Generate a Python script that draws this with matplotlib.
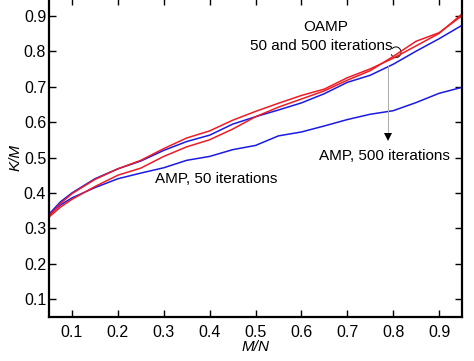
import matplotlib
matplotlib.use("Agg")
import matplotlib.pyplot as plt
from matplotlib.patches import Arc

plt.rcParams['font.family'] = ['Liberation Sans', 'DejaVu Sans']

x = [0.05, 0.075, 0.1, 0.15, 0.2, 0.25, 0.3, 0.35, 0.4, 0.45, 0.5,
     0.55, 0.6, 0.65, 0.7, 0.75, 0.8, 0.85, 0.9, 0.95]

amp_50 = [0.338, 0.366, 0.386, 0.415, 0.440, 0.456, 0.471, 0.492, 0.503, 0.522, 0.534,
          0.561, 0.572, 0.589, 0.607, 0.622, 0.632, 0.655, 0.681, 0.698]
amp_500 = [0.340, 0.375, 0.400, 0.440, 0.468, 0.490, 0.520, 0.545, 0.563, 0.594, 0.615,
           0.634, 0.654, 0.680, 0.712, 0.732, 0.763, 0.800, 0.835, 0.873]
oamp_a = [0.335, 0.370, 0.398, 0.438, 0.468, 0.492, 0.525, 0.555, 0.575, 0.605, 0.630,
          0.653, 0.675, 0.693, 0.725, 0.750, 0.780, 0.815, 0.850, 0.905]
oamp_b = [0.332, 0.360, 0.382, 0.418, 0.450, 0.470, 0.503, 0.530, 0.550, 0.580, 0.615,
          0.642, 0.665, 0.688, 0.718, 0.745, 0.785, 0.828, 0.852, 0.900]

xticks = [0.1, 0.2, 0.3, 0.4, 0.5, 0.6, 0.7, 0.8, 0.9]
yticks = [0.1, 0.2, 0.3, 0.4, 0.5, 0.6, 0.7, 0.8, 0.9]

RED = '#ee1c24'
BLUE = '#1a1ae6'
FS = 11

fig = plt.figure(figsize=(4.74, 3.61), dpi=100)
ax = fig.add_axes([49/474, 44/361, (462-49)/474, (319)/361])

ax.plot(x, amp_50, color=BLUE, lw=1.1)
ax.plot(x, amp_500, color=BLUE, lw=1.1)
ax.plot(x, oamp_b, color=RED, lw=1.1)
ax.plot(x, oamp_a, color=RED, lw=1.1)

ax.set_xlim(0.05, 0.95)
ax.set_ylim(0.05, 0.95)
ax.set_xticks(xticks)
ax.set_yticks(yticks)
ax.set_xticklabels([f"{v:.1f}" for v in xticks], fontsize=11.5)
ax.set_yticklabels([f"{v:.1f}" for v in yticks], fontsize=11.5)
ax.tick_params(direction='in', length=5, width=1.0, top=True, right=True)
ax.tick_params(axis='y', pad=2)
ax.tick_params(axis='x', pad=6)
for s in ax.spines.values():
    s.set_linewidth(1.6)

ax.set_xlabel('M/N', fontsize=FS, style='italic', labelpad=0)
ax.set_ylabel('K/M', fontsize=FS, style='italic', labelpad=1)

ax.text(0.654, 0.869, 'OAMP', fontsize=FS, ha='center', va='center')
ax.text(0.643, 0.814, '50 and 500 iterations', fontsize=FS, ha='center', va='center')
ax.add_patch(Arc((0.806, 0.797), 0.022, 0.03, theta1=-150, theta2=130, color='black', lw=0.7))

ax.plot([0.789, 0.789], [0.757, 0.565], color='#aaaaaa', lw=0.7)
ax.plot([0.789], [0.557], marker='v', color='black', ms=5.5, mew=0)

ax.text(0.782, 0.503, 'AMP, 500 iterations', fontsize=FS, ha='center', va='center')
ax.text(0.414, 0.438, 'AMP, 50 iterations', fontsize=FS, ha='center', va='center')

fig.savefig('out.png', dpi=100)
